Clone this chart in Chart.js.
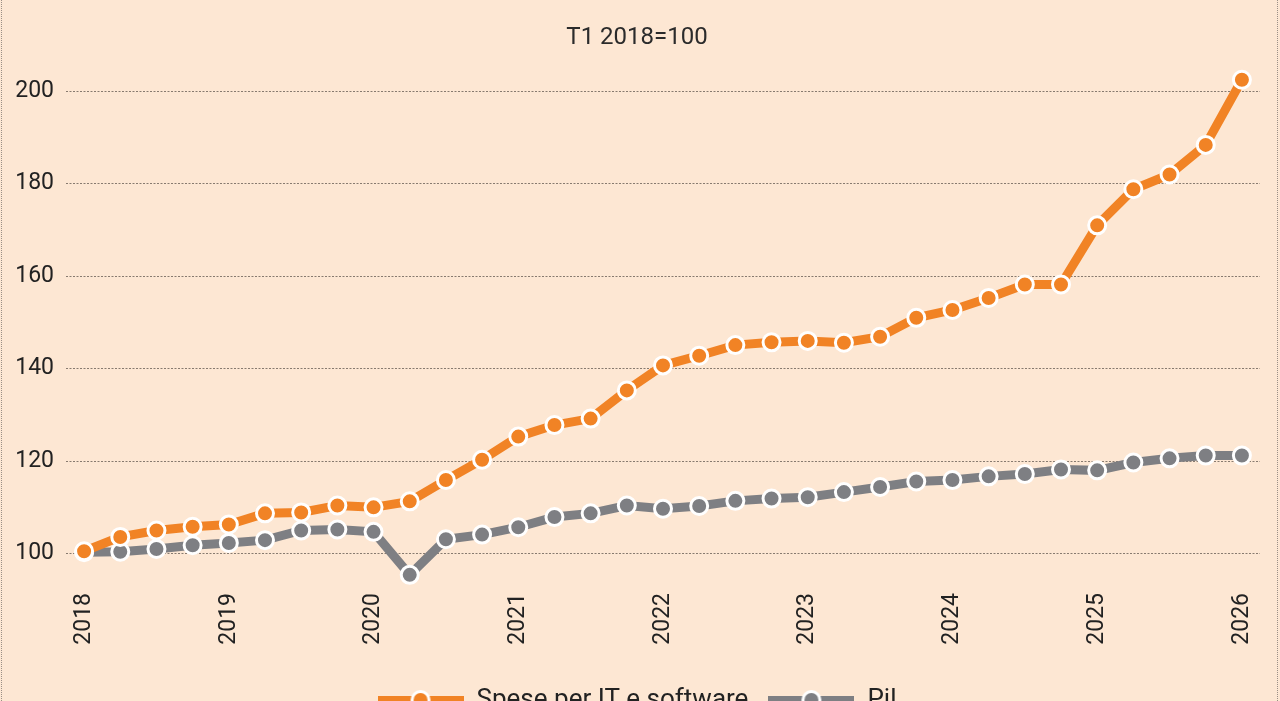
<!DOCTYPE html>
<html lang="it">
<head>
<meta charset="utf-8">
<title>Spese per IT e software e Pil</title>
<script src="https://cdn.jsdelivr.net/npm/chart.js@4.4.1/dist/chart.umd.min.js"></script>
<style>
  html, body { margin: 0; padding: 0; background: #fde7d3; overflow: hidden; }
  #wrap { position: relative; width: 1280px; height: 701px; overflow: hidden; }
  #wrap::before, #wrap::after {
    content: ''; position: absolute; top: 0; bottom: 0;
    border-left: 1px dotted #9a8f86;
  }
  #wrap::before { left: 1px; }
  #wrap::after { left: 1277px; }
  #box { position: absolute; left: 0; top: 0; width: 1280px; height: 723px; }
</style>
</head>
<body>
<div id="wrap">
  <div id="box"><canvas id="chart"></canvas></div>
</div>
<script>
// trimestri (T1 2018 = 100)
const quarters = [
  'T1 2018', 'T2 2018', 'T3 2018', 'T4 2018',
  'T1 2019', 'T2 2019', 'T3 2019', 'T4 2019',
  'T1 2020', 'T2 2020', 'T3 2020', 'T4 2020',
  'T1 2021', 'T2 2021', 'T3 2021', 'T4 2021',
  'T1 2022', 'T2 2022', 'T3 2022', 'T4 2022',
  'T1 2023', 'T2 2023', 'T3 2023', 'T4 2023',
  'T1 2024', 'T2 2024', 'T3 2024', 'T4 2024',
  'T1 2025', 'T2 2025', 'T3 2025', 'T4 2025',
  'T1 2026'
];
const yearLabels = ['2018', '2019', '2020', '2021', '2022', '2023', '2024', '2025', '2026'];
const yTicks = [100, 120, 140, 160, 180, 200];

const speseIT = [
  100.5, 103.6, 105.0, 105.8, 106.3, 108.7, 108.9, 110.4,
  110.0, 111.3, 115.9, 120.3, 125.3, 127.8, 129.2, 135.3,
  140.7, 142.8, 145.1, 145.7, 146.0, 145.6, 146.9, 151.0,
  152.7, 155.3, 158.2, 158.2, 171.0, 178.8, 182.0, 188.4,
  202.5
];
const pil = [
  100.3, 100.4, 101.0, 101.8, 102.3, 102.9, 105.0, 105.2,
  104.7, 95.4, 103.1, 104.1, 105.7, 107.9, 108.7, 110.4,
  109.7, 110.3, 111.4, 111.9, 112.2, 113.3, 114.4, 115.6,
  115.9, 116.7, 117.2, 118.2, 118.0, 119.7, 120.6, 121.2,
  121.2
];

const ORANGE = '#f18325';
const GREY = '#7e7f83';
const FONT = 'Roboto, "Liberation Sans", sans-serif';

// simbolo della legenda: linea spessa con pallino al centro
function legendMarker(color) {
  const c = document.createElement('canvas');
  c.width = 86; c.height = 24;
  const g = c.getContext('2d');
  g.fillStyle = color;
  g.fillRect(0, 8, 86, 8);
  g.beginPath();
  g.arc(43, 12, 8.5, 0, Math.PI * 2);
  g.fill();
  g.lineWidth = 3;
  g.strokeStyle = '#fff';
  g.stroke();
  return c;
}
const markers = [legendMarker(ORANGE), legendMarker(GREY)];

const lineStyle = color => ({
  borderColor: color,
  backgroundColor: color,
  borderWidth: 9,
  pointRadius: 8.5,
  pointHoverRadius: 8.5,
  pointBorderWidth: 3,
  pointBorderColor: '#fff',
  pointBackgroundColor: color,
  tension: 0,
  clip: false
});

new Chart(document.getElementById('chart'), {
  type: 'line',
  data: {
    labels: quarters,
    datasets: [
      { label: 'Spese per IT e software', data: speseIT, ...lineStyle(ORANGE) },
      { label: 'Pil', data: pil, ...lineStyle(GREY) }
    ]
  },
  options: {
    responsive: true,
    maintainAspectRatio: false,
    animation: false,
    layout: { padding: { left: 14, right: 20, top: 0, bottom: 0 } },
    plugins: {
      title: {
        display: true,
        text: 'T1 2018=100',
        color: '#2b2b2b',
        font: { family: FONT, size: 24, weight: 'normal' },
        padding: { top: 24, bottom: 20 }
      },
      legend: {
        position: 'bottom',
        labels: {
          usePointStyle: true,
          pointStyleWidth: 86,
          padding: 20,
          color: '#222',
          font: { family: FONT, size: 26 },
          generateLabels: chart => chart.data.datasets.map((ds, i) => ({
            text: ds.label,
            pointStyle: markers[i],
            fillStyle: ds.borderColor,
            strokeStyle: ds.borderColor,
            lineWidth: 0,
            hidden: false,
            datasetIndex: i,
            fontColor: '#222'
          }))
        }
      },
      tooltip: { enabled: false }
    },
    scales: {
      x: {
        offset: true,
        grid: { display: false },
        border: { display: false },
        afterFit: axis => { axis.height = 88; },
        ticks: {
          autoSkip: false,
          minRotation: 90,
          maxRotation: 90,
          padding: 6,
          color: '#222',
          font: { family: FONT, size: 23 },
          callback: (val, i) => (i % 4 === 0 ? yearLabels[i / 4] : '')
        }
      },
      y: {
        min: 94.5,
        max: 204,
        border: { display: false, dash: [2, 1.5] },
        grid: {
          color: 'rgba(95, 85, 78, 0.75)',
          lineWidth: 1,
          drawTicks: false
        },
        afterFit: axis => { axis.width = 52; },
        afterBuildTicks: axis => { axis.ticks = yTicks.map(v => ({ value: v })); },
        ticks: {
          padding: 12,
          color: '#222',
          font: { family: FONT, size: 23 }
        }
      }
    }
  }
});
</script>
</body>
</html>
